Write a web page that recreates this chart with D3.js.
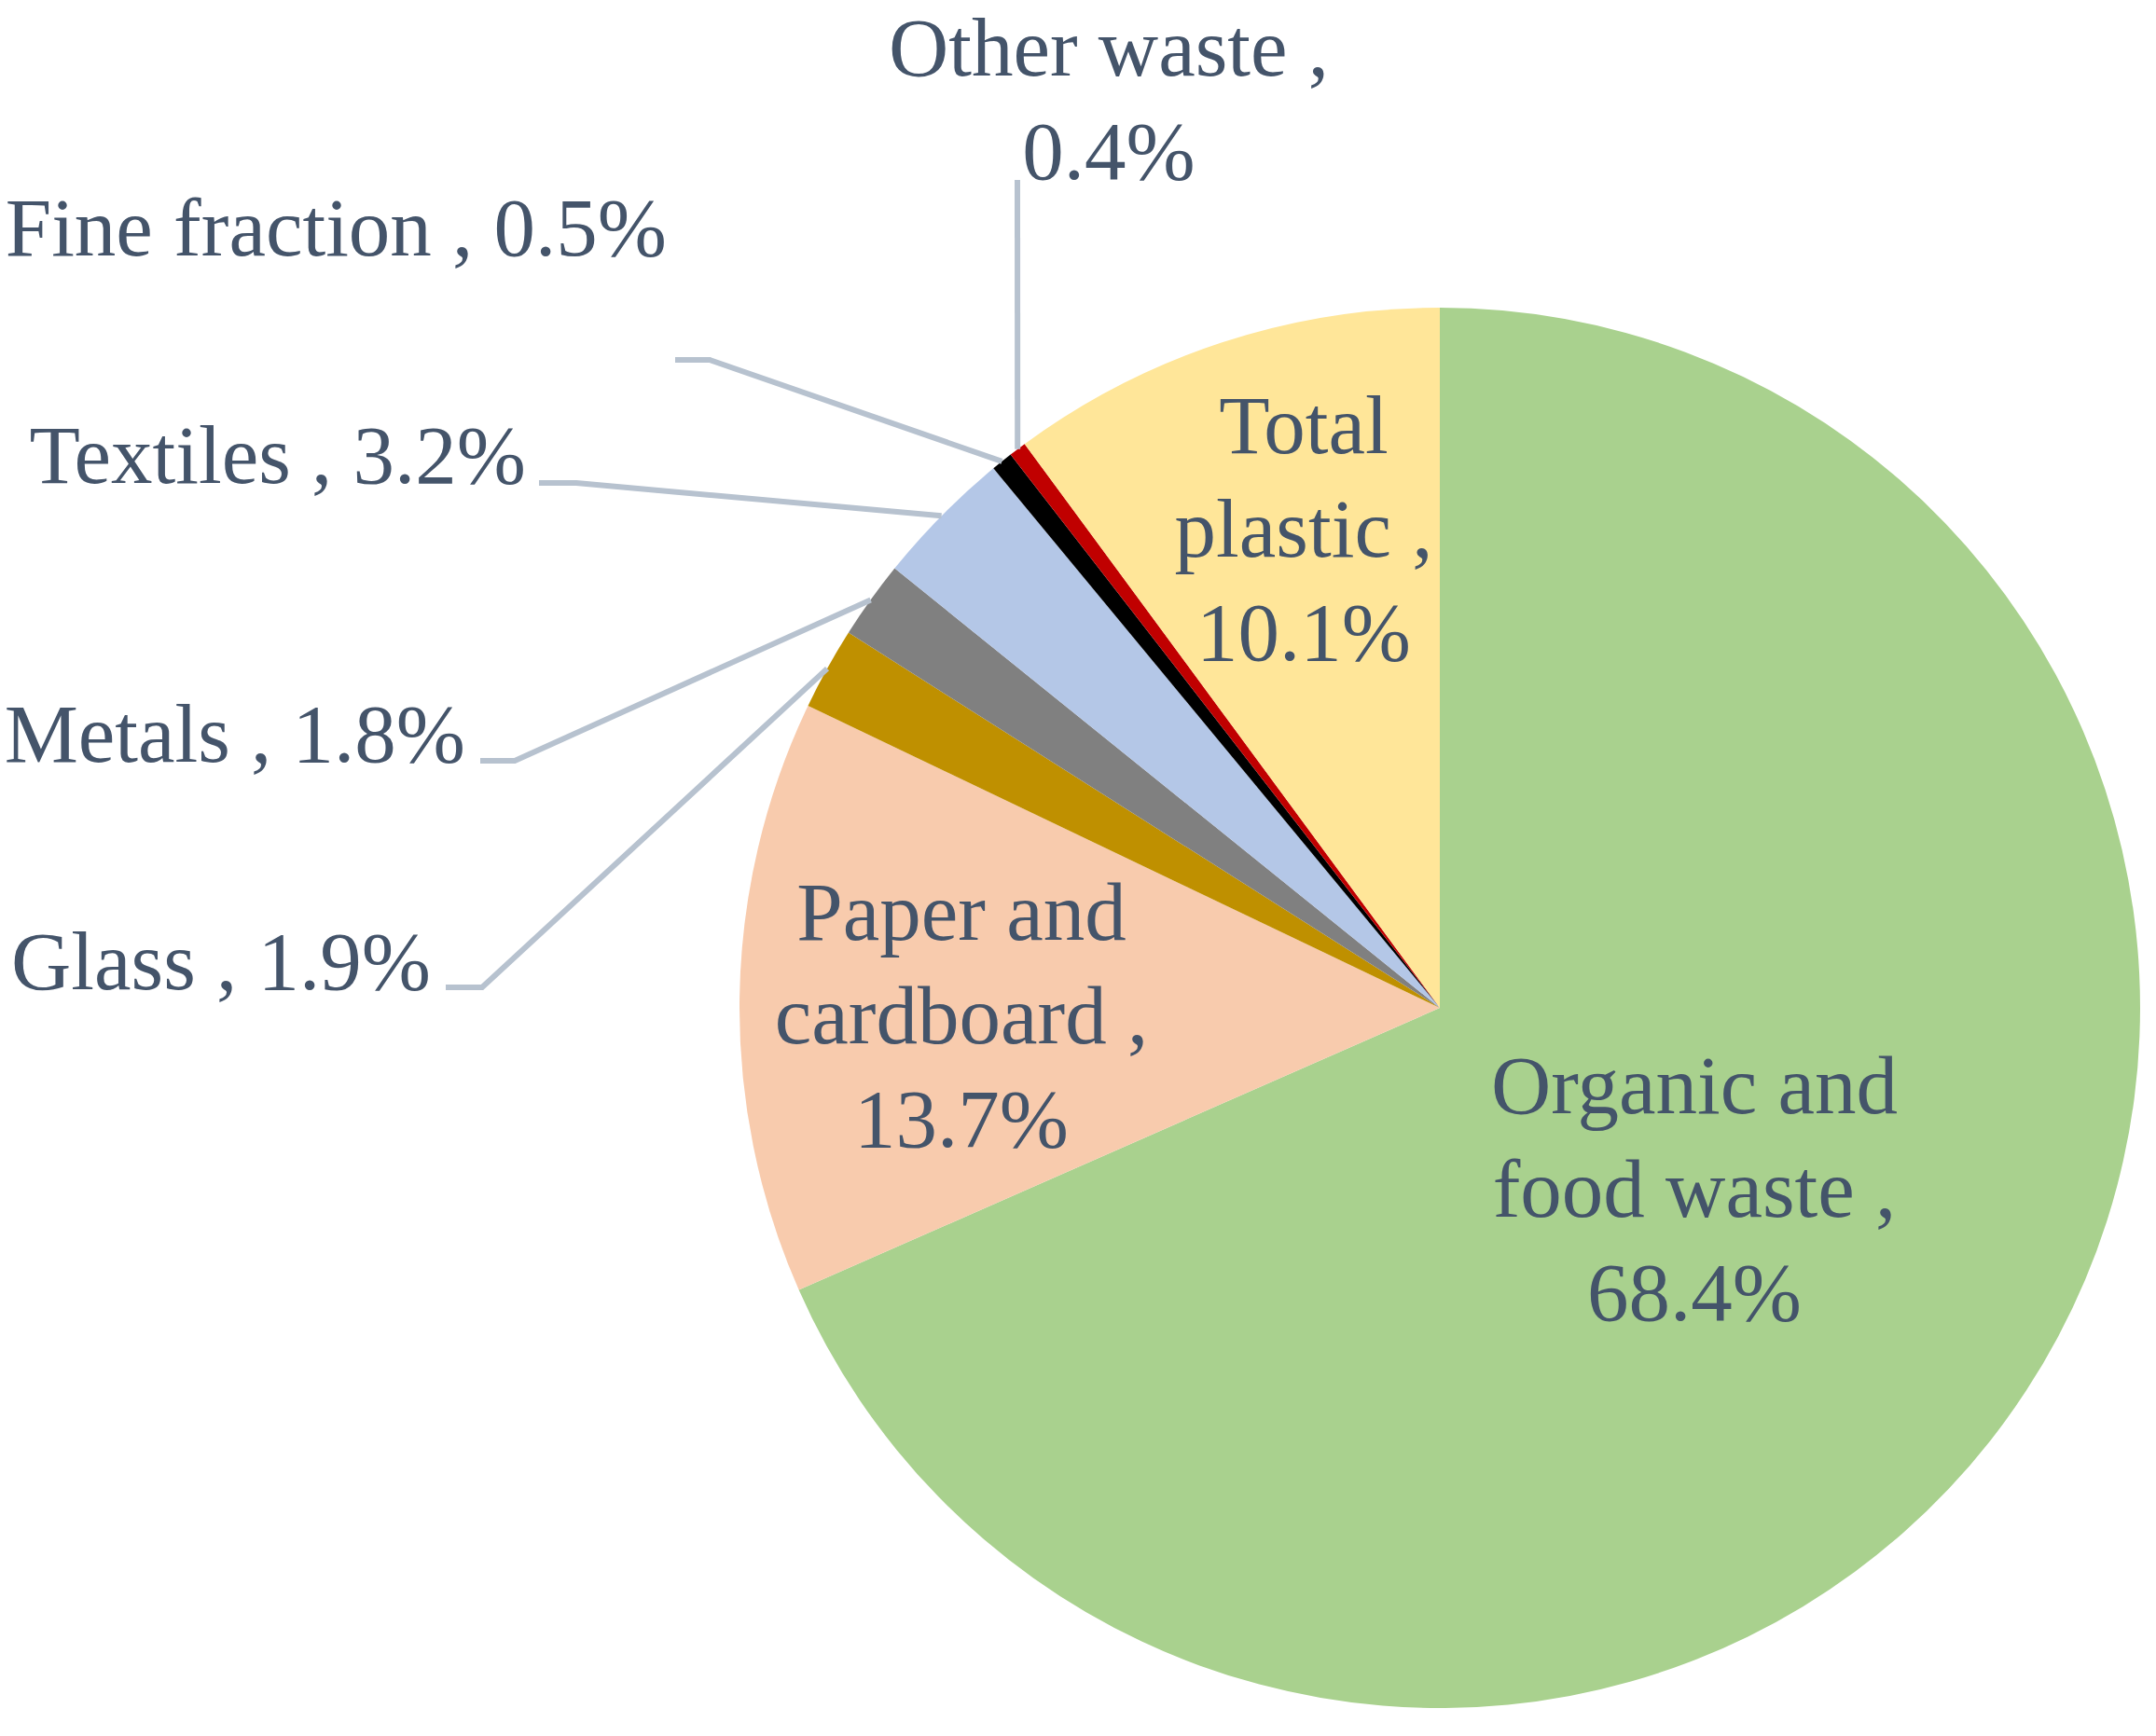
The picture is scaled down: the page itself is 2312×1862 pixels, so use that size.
<!DOCTYPE html>
<html lang="en">
<head>
<meta charset="utf-8">
<title>Waste composition</title>
<script src="https://cdn.jsdelivr.net/npm/d3@7"></script>
<style>
  html, body { margin: 0; padding: 0; background: #fff; }
  text { font-family: "Liberation Serif", "DejaVu Serif", serif; fill: #44546A; }
</style>
</head>
<body>
<script>
// data, clockwise from 12 o'clock
var categories = ["Organic and food waste", "Paper and cardboard", "Glass", "Metals",
                  "Textiles", "Fine fraction", "Other waste", "Total plastic"];
var shares = [68.4, 13.7, 1.9, 1.8, 3.2, 0.5, 0.4, 10.1];
var colours = ["#A9D18E", "#F8CBAD", "#BF9000", "#808080", "#B4C7E7", "#000000", "#C00000", "#FFE699"];

// label layout: lines of text, anchor, x, first baseline
var labelLines = [
  ["Organic and", "food waste ,", "68.4%"],
  ["Paper and", "cardboard ,", "13.7%"],
  ["Glass , 1.9%"],
  ["Metals , 1.8%"],
  ["Textiles , 3.2%"],
  ["Fine fraction , 0.5%"],
  ["Other waste ,", "0.4%"],
  ["Total", "plastic ,", "10.1%"]
];
var labelAnchor = ["middle", "middle", "end", "end", "end", "end", "middle", "middle"];
var labelX = [1817, 1031, 462, 499, 564, 715, 1189, 1398];
var labelY = [1194, 1008, 1061, 817, 518, 274, 81, 486];
// leader lines: start point and elbow (null = no leader)
var leaderStart = [null, null, [478, 1059], [515, 816], [578, 518], [724, 386], [1091, 193], null];
var leaderElbow = [null, null, [517, 1059], [552, 816], [618, 518], [761, 386], null, null];

var width = 2312, height = 1862;
var cx = 1544, cy = 1081, radius = 751;
var lineStep = 111, fontSize = 89;

var svg = d3.select("body").append("svg")
  .attr("width", width)
  .attr("height", height);

var pie = d3.pie().sort(null).value(function(d) { return d; });
var arcs = pie(shares);
var arc = d3.arc().innerRadius(0).outerRadius(radius);

var g = svg.append("g").attr("transform", "translate(" + cx + "," + cy + ")");

g.selectAll("path.slice")
  .data(arcs)
  .enter()
  .append("path")
  .attr("class", "slice")
  .attr("d", arc)
  .attr("fill", function(d, i) { return colours[i]; });

// leader lines from label to the slice edge at mid angle
var line = d3.line();
arcs.forEach(function(d, i) {
  if (!leaderStart[i]) return;
  var mid = (d.startAngle + d.endAngle) / 2;
  var end = [cx + radius * Math.sin(mid), cy - radius * Math.cos(mid)];
  var pts = [leaderStart[i]];
  if (leaderElbow[i]) pts.push(leaderElbow[i]);
  pts.push(end);
  svg.append("path")
    .attr("d", line(pts))
    .attr("fill", "none")
    .attr("stroke", "#B7C2CF")
    .attr("stroke-width", 6);
});

// labels
categories.forEach(function(c, i) {
  var t = svg.append("text")
    .attr("text-anchor", labelAnchor[i])
    .attr("font-size", fontSize);
  labelLines[i].forEach(function(s, k) {
    t.append("tspan")
      .attr("x", labelX[i])
      .attr("y", labelY[i] + k * lineStep)
      .text(s);
  });
});
</script>
</body>
</html>
